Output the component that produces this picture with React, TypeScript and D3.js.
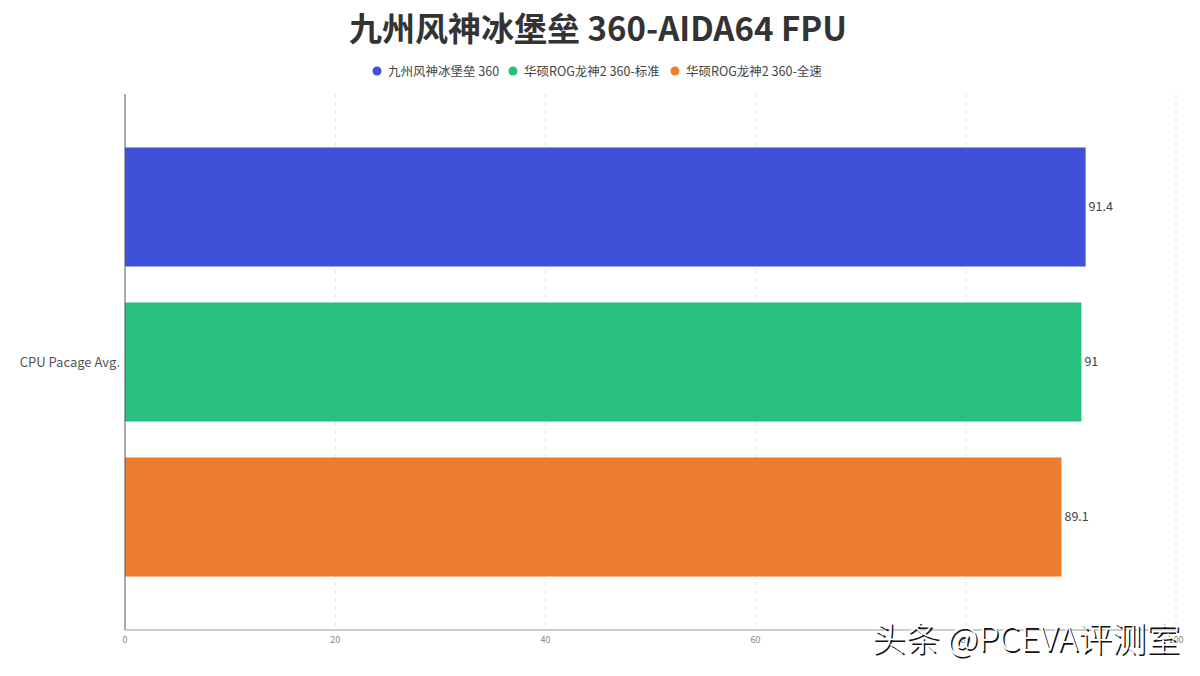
import { useEffect, useRef } from 'react';
import { select, scaleLinear, scaleBand } from 'd3';

const categories = ['CPU Pacage Avg.'];
const seriesNames = ['九州风神冰堡垒 360', '华硕ROG龙神2 360-标准', '华硕ROG龙神2 360-全速'];
const seriesValues = [91.4, 91, 89.1];
const seriesColors = ['#3f51d9', '#29bf7e', '#ec7d31'];
const xTicks = [0, 20, 40, 60, 80, 100];

const W = 1200,
  H = 676;

export default function App() {
  const ref = useRef<SVGSVGElement>(null);

  useEffect(() => {
    const el = ref.current;
    if (!el) return;
    const svg = select(el);
    svg.selectAll('*').remove();

    const font = '"Noto Sans CJK SC", "Noto Sans", sans-serif';
    const left = 125,
      right = 1176,
      top = 94,
      bottom = 630;

    const x = scaleLinear().domain([0, 100]).range([left, right]);
    const yCat = scaleBand().domain(categories).range([top, bottom]);
    const y = scaleBand<string>()
      .domain(seriesNames)
      .range([0, yCat.bandwidth()])
      .paddingInner(0.232)
      .paddingOuter(0.345);

    svg.append('rect').attr('width', W).attr('height', H).attr('fill', '#fff');

    // title
    svg
      .append('text')
      .attr('x', 598)
      .attr('y', 41)
      .attr('text-anchor', 'middle')
      .attr('font-family', font)
      .attr('font-size', 33)
      .attr('font-weight', 700)
      .attr('fill', '#333')
      .text('九州风神冰堡垒 360-AIDA64 FPU');

    // legend
    const legendX = [377, 513, 675];
    const lg = svg.append('g').attr('font-family', font).attr('font-size', 12.5).attr('fill', '#444');
    seriesNames.forEach((name, i) => {
      lg.append('circle').attr('cx', legendX[i]).attr('cy', 71).attr('r', 4.5).attr('fill', seriesColors[i]);
      lg.append('text').attr('x', legendX[i] + 11).attr('y', 75.5).text(name);
    });

    // grid
    svg
      .append('g')
      .selectAll('line')
      .data(xTicks.slice(1))
      .join('line')
      .attr('x1', (d) => x(d))
      .attr('x2', (d) => x(d))
      .attr('y1', top)
      .attr('y2', bottom)
      .attr('stroke', '#e4e4e4')
      .attr('stroke-dasharray', '4,4');

    // bars
    const cat = categories[0];
    const y0 = yCat(cat) ?? top;
    svg
      .append('g')
      .selectAll('rect')
      .data(seriesValues)
      .join('rect')
      .attr('x', x(0))
      .attr('y', (_, i) => y0 + (y(seriesNames[i]) ?? 0))
      .attr('width', (d) => x(d) - x(0))
      .attr('height', y.bandwidth())
      .attr('fill', (_, i) => seriesColors[i]);

    // value labels
    svg
      .append('g')
      .attr('font-family', font)
      .attr('font-size', 12.5)
      .attr('fill', '#444')
      .selectAll('text')
      .data(seriesValues)
      .join('text')
      .attr('x', (d) => x(d) + 3)
      .attr('y', (_, i) => y0 + (y(seriesNames[i]) ?? 0) + y.bandwidth() / 2 + 4)
      .text((d) => d);

    // axes
    svg.append('line').attr('x1', left).attr('x2', left).attr('y1', top).attr('y2', bottom).attr('stroke', '#555');
    svg.append('line').attr('x1', left).attr('x2', right).attr('y1', bottom).attr('y2', bottom).attr('stroke', '#999');

    svg
      .append('g')
      .attr('font-family', font)
      .attr('font-size', 9)
      .attr('fill', '#888')
      .attr('text-anchor', 'middle')
      .selectAll('text')
      .data(xTicks)
      .join('text')
      .attr('x', (d) => x(d))
      .attr('y', bottom + 13)
      .text((d) => d);

    // category label
    svg
      .append('text')
      .attr('x', left - 5)
      .attr('y', y0 + yCat.bandwidth() / 2 + 4.5)
      .attr('text-anchor', 'end')
      .attr('font-family', font)
      .attr('font-size', 13)
      .attr('fill', '#555')
      .text(cat);

    // watermark: white text with dark drop shadow
    const wm = svg
      .append('g')
      .attr('font-family', font)
      .attr('font-size', 34)
      .attr('font-weight', 300)
      .attr('text-anchor', 'end');
    wm.append('text').attr('x', 1181.5).attr('y', 652.5).attr('fill', '#111').text('头条 @PCEVA评测室');
    wm.append('text').attr('x', 1180).attr('y', 651).attr('fill', '#fff').text('头条 @PCEVA评测室');
  }, []);

  return <svg ref={ref} width={W} height={H} style={{ display: 'block', margin: -8 }} />;
}
